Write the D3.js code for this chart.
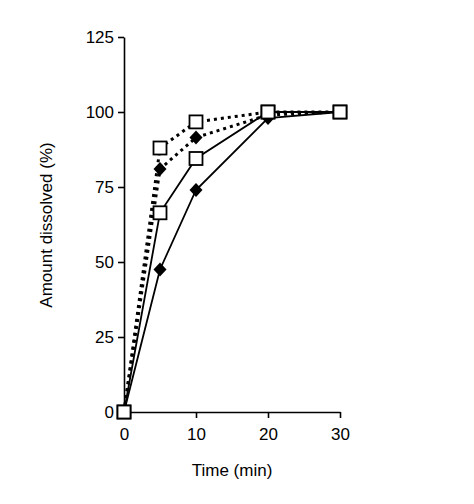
<!DOCTYPE html><html><head><meta charset="utf-8">
<script src="https://cdn.jsdelivr.net/npm/d3@7"></script>
<style>body{margin:0;background:#fff}text{font-family:"Liberation Sans",Arial,sans-serif;fill:#000}</style></head><body>
<svg id="c" width="474" height="504"></svg>
<script>
const times=[0,5,10,20,30];
const solidDiamond=[0,47.5,74,98,100];
const solidSquare=[0,66.4,84.5,100,100];
const dottedDiamond=[0,81,91.5,99,100];
const dottedSquare=[0,88,96.7,100,100];
const xTicks=[0,10,20,30];
const yTicks=[0,25,50,75,100,125];
const series=[
 {v:solidDiamond,dash:null,m:"d"},
 {v:solidSquare,dash:null,m:"s"},
 {v:dottedDiamond,dash:"3,4",m:"d"},
 {v:dottedSquare,dash:"3,4",m:"s"}];
const svg=d3.select("#c");
const x=d3.scaleLinear().domain([0,30]).range([124,340]);
const y=d3.scaleLinear().domain([0,125]).range([412,37]);
const xa=svg.append("g").attr("transform","translate(0,412)").call(d3.axisBottom(x).tickValues(xTicks).tickSize(6).tickSizeOuter(0));
const ya=svg.append("g").attr("transform","translate(124,0)").call(d3.axisLeft(y).tickValues(yTicks).tickSize(6).tickSizeOuter(0));
[xa,ya].forEach(a=>{a.selectAll("path,line").attr("stroke","#000").attr("stroke-width",1.6);a.selectAll("text").attr("font-size",17).style("font-family","Liberation Sans, Arial, sans-serif");});
xa.selectAll("text").attr("dy","1.1em");
ya.selectAll("text").attr("x",-10);
svg.append("text").attr("x",232).attr("y",476).attr("text-anchor","middle").attr("font-size",17).text("Time (min)");
svg.append("text").attr("transform","translate(52,225) rotate(-90)").attr("text-anchor","middle").attr("font-size",17).text("Amount dissolved (%)");
const line=d3.line().x((d,i)=>x(times[i])).y(d=>y(d));
series.forEach(s=>{
 svg.append("path").datum(s.v).attr("d",line).attr("fill","none").attr("stroke","#000").attr("stroke-width",s.dash?3:1.8).attr("stroke-dasharray",s.dash);
});
series.forEach(s=>{
 const g=svg.append("g");
 s.v.forEach((d,i)=>{
  const cx=x(times[i]),cy=y(d);
  if(s.m==="s") g.append("rect").attr("x",cx-6.5).attr("y",cy-6.5).attr("width",13).attr("height",13).attr("fill","#fff").attr("stroke","#000").attr("stroke-width",1.8);
  else g.append("path").attr("d",`M${cx},${cy-7}L${cx+6.5},${cy}L${cx},${cy+7}L${cx-6.5},${cy}Z`).attr("fill","#000");
 });
});
</script></body></html>
